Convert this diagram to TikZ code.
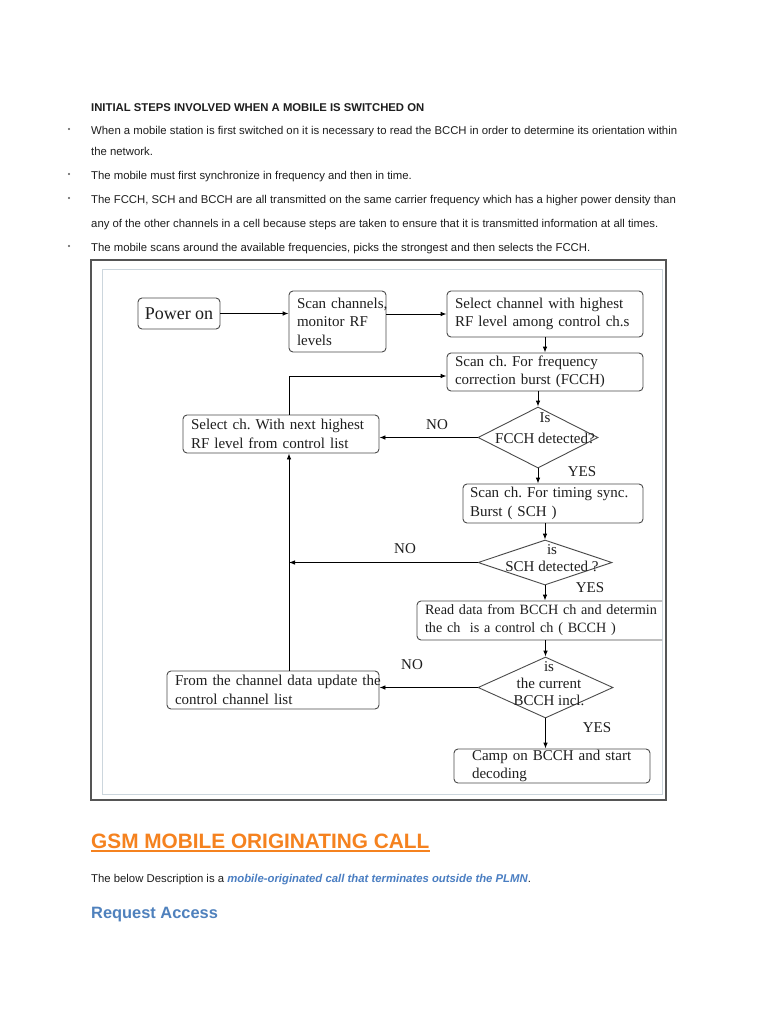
\documentclass[tikz,border=0pt]{standalone}
\usepackage{fontspec}
\setmainfont{Liberation Serif}
\newfontfamily\arialf{Liberation Sans}
\usetikzlibrary{arrows.meta,shapes.geometric}
\definecolor{framegray}{HTML}{555555}
\definecolor{innerline}{HTML}{CCD6DD}
\definecolor{boxgray}{HTML}{4A4A4A}
\definecolor{gsmorange}{HTML}{F5821F}
\definecolor{linkblue}{HTML}{4A7EC2}
\definecolor{headblue}{HTML}{4F81BD}
\definecolor{txt}{HTML}{1E1E1E}
\newlength\measlen
\newcommand\flowf{\fontsize{15pt}{18.5pt}\selectfont}
\frenchspacing
\begin{document}
\settowidth\measlen{\arialf\fontsize{10pt}{12pt}\selectfont When a mobile station is first switched on it is necessary to read the BCCH in order to determine its orientation within}%
\pgfmathsetmacro\bsz{10*586/\measlen}%
\settowidth\measlen{\arialf\bfseries\fontsize{10pt}{12pt}\selectfont INITIAL STEPS INVOLVED WHEN A MOBILE IS SWITCHED ON}%
\pgfmathsetmacro\hsz{10*333/\measlen}%
\def\bodyf{\arialf\fontsize{\bsz pt}{\bsz pt}\selectfont}%
\def\headf{\arialf\bfseries\fontsize{\hsz pt}{\hsz pt}\selectfont}%
\begin{tikzpicture}[x=1pt,y=-1pt,
  box/.style={draw=boxgray, line width=0.9pt, rounded corners=4pt, align=left,
    inner xsep=8pt, inner ysep=0pt, font=\flowf, text=txt},
  dia/.style={diamond, draw=boxgray, line width=0.9pt, inner sep=0pt},
  dtext/.style={align=center, inner sep=0pt, text=txt, font=\fontsize{15pt}{17pt}\selectfont},
  lbl/.style={inner sep=0pt, text=txt, font=\flowf},
  arr/.style={-{Latex[length=6pt,width=4.6pt]}, line width=0.9pt, draw=black},
  btext/.style={anchor=base west, inner sep=0pt, font=\bodyf, text=txt},
  bul/.style={fill=txt!75}]

\fill[white] (0,0) rectangle (768,1024);
\useasboundingbox (0,0) rectangle (768,1024);

% ---------- text above ----------
\node[btext, font=\headf] (h0) at (91,112) {INITIAL STEPS INVOLVED WHEN A MOBILE IS SWITCHED ON};
\node[btext] (l1) at (91,135) {When a mobile station is first switched on it is necessary to read the BCCH in order to determine its orientation within};
\node[btext] (l1b) at (91,156) {the network.};
\node[btext] (l2) at (91,180) {The mobile must first synchronize in frequency and then in time.};
\node[btext] (l3) at (91,204) {The FCCH, SCH and BCCH are all transmitted on the same carrier frequency which has a higher power density than};
\node[btext] (l3b) at (91,227.5) {any of the other channels in a cell because steps are taken to ensure that it is transmitted information at all times.};
\node[btext] (l4) at (91,251.5) {The mobile scans around the available frequencies, picks the strongest and then selects the FCCH.};
\foreach \yy in {129,174,198,246} \fill[bul] (69,\yy) circle (1.1);

% ---------- frame ----------
\draw[framegray, line width=1.2pt] (91,260) rectangle (666,800);
\draw[innerline, line width=0.9pt] (102,269) rectangle (662,794);

% ---------- flowchart nodes ----------
\node[box, font=\fontsize{18pt}{20pt}\selectfont, align=center, inner xsep=0pt,
  minimum width=82pt, minimum height=31pt] (power) at (179,313.5) {Power on};
\node[box, text width=81pt, minimum height=61pt] (scan) at (337.5,321.5)
  {\mbox{Scan channels,}\\monitor RF\\levels};
\node[box, text width=180pt, minimum height=46pt] (sel) at (545,314)
  {Select channel with highest\\RF level among control ch.s};
\node[box, text width=180pt, minimum height=38pt] (fcch) at (545,372)
  {Scan ch. For frequency\\correction burst (FCCH)};
\node[dia, minimum width=120pt, minimum height=61pt] (fcchd) at (538,437.5) {};
\node[dtext, font=\fontsize{15pt}{21pt}\selectfont] (fcchdt) at (545,428) {Is\\FCCH detected?};
\node[box, text width=180pt, minimum height=38pt] (selnext) at (281,434)
  {Select ch. With next highest\\RF level from control list};
\node[box, inner xsep=7pt, text width=166pt, minimum height=39pt] (timing) at (553,503.5)
  {Scan ch. For timing sync.\\Burst ( SCH )};
\node[dia, minimum width=134pt, minimum height=45pt] (schd) at (545,562.5) {};
\node[dtext] (schdt) at (552,558) {is\\SCH detected ?};
\begin{scope}
  \clip (0,0) rectangle (662,1024);
  \node[box, font=\fontsize{14.2pt}{18pt}\selectfont, text width=267pt, minimum height=39pt] (read) at (558.5,620.5)
    {Read data from BCCH ch and determin\\the ch\ \ is a control ch ( BCCH )};
\end{scope}
\node[dia, minimum width=135pt, minimum height=61pt] (bcchd) at (545.5,687.5) {};
\node[dtext] (bcchdt) at (549,683.5) {is\\the current\\BCCH incl.};
\node[box, text width=196pt, minimum height=38pt] (from) at (273,690)
  {\mbox{From the channel data update the}\\control channel list};
\node[box, inner xsep=18pt, text width=160pt, minimum height=34pt] (camp) at (552,766)
  {Camp on BCCH and start\\decoding};

% labels
\node[lbl] (no1) at (437,425) {NO};
\node[lbl] (yes1) at (582,472) {YES};
\node[lbl] (no2) at (405,549) {NO};
\node[lbl] (yes2) at (590,588) {YES};
\node[lbl] (no3) at (412,665) {NO};
\node[lbl] (yes3) at (597,728) {YES};

% ---------- connectors ----------
\coordinate (vx) at (289,376);
\draw[arr] (power.east) -- (power.east -| scan.west);
\draw[arr] (scan.east |- sel.west) -- (sel.west);
\draw[arr] (sel.south) -- (fcch.north);
\draw[arr] (fcchd.north |- fcch.south) -- (fcchd.north);
\draw[arr] (fcchd.west) -- (fcchd.west -| selnext.east);
\draw[arr] (fcchd.south) -- (fcchd.south |- timing.north);
\draw[arr] (schd.north |- timing.south) -- (schd.north);
\draw[arr] (vx |- selnext.north) -- (vx) -- (vx -| fcch.west);
\draw[arr] (schd.west) -- (schd.west -| vx);
\draw[arr] (vx |- from.north) -- (vx |- selnext.south);
\draw[arr] (schd.south) -- (schd.south |- read.north);
\draw[arr] (bcchd.north |- read.south) -- (bcchd.north);
\draw[arr] (bcchd.west) -- (bcchd.west -| from.east);
\draw[arr] (bcchd.south) -- (bcchd.south |- camp.north);

% ---------- text below ----------
\node[anchor=base west, inner sep=0pt, text=gsmorange,
  font=\arialf\bfseries\fontsize{20.8pt}{22pt}\selectfont] (gsm) at (91,848) {GSM MOBILE ORIGINATING CALL};
\draw[gsmorange, line width=2.4pt] ([yshift=-3pt]gsm.base west) -- ([yshift=-3pt]gsm.base east);
\node[btext] (desc) at (91,882) {The below Description is a {\color{linkblue}\bfseries\itshape mobile-originated call that terminates outside the PLMN}.};
\node[anchor=base west, inner sep=0pt, text=headblue,
  font=\arialf\bfseries\fontsize{16.4pt}{18pt}\selectfont] (req) at (91,918.5) {Request Access};
\end{tikzpicture}
\end{document}
